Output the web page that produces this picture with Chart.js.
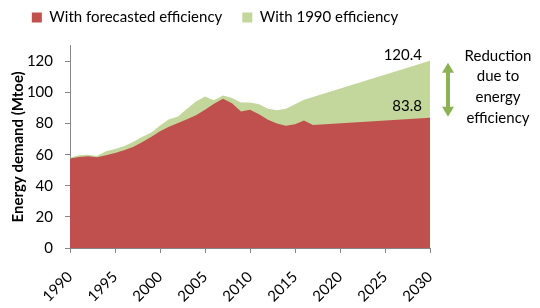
<!DOCTYPE html>
<html>
<head>
<meta charset="utf-8">
<script src="https://cdn.jsdelivr.net/npm/chart.js@4.4.1/dist/chart.umd.min.js"></script>
<style>
  html, body { margin: 0; padding: 0; background: #fff; }
  #wrap { width: 540px; height: 308px; }
</style>
</head>
<body>
<div id="wrap"><canvas id="myChart"></canvas></div>
<script>
// data (Mtoe)
const forecastYears = [1990, 1991, 1992, 1993, 1994, 1995, 1996, 1997, 1998, 1999, 2000, 2001, 2002, 2003, 2004, 2005, 2006, 2007, 2008, 2009, 2010, 2011, 2012, 2013, 2014, 2015, 2016, 2017, 2030];
const forecastValues = [57.5, 58.5, 59, 58.3, 59.6, 61, 62.8, 65, 68, 71.3, 75, 78, 80.3, 82.7, 85.3, 88.9, 92.7, 96, 93, 87.8, 88.9, 86, 82.5, 80, 78.6, 79.5, 82, 79, 83.8];

const baselineYears = [1990, 1991, 1992, 1993, 1994, 1995, 1996, 1997, 1998, 1999, 2000, 2001, 2002, 2003, 2004, 2005, 2006, 2007, 2008, 2009, 2010, 2011, 2012, 2013, 2014, 2015, 2016, 2030];
const baselineValues = [58, 59.6, 60, 59.2, 62.2, 63.7, 65.4, 68.2, 71.4, 74.1, 78.8, 82.7, 84.6, 89.5, 94.2, 97.4, 95, 98, 96.5, 93.5, 93.5, 92.5, 89.5, 88.5, 89.5, 92.5, 95.3, 120.4];

const yTickValues = [0, 20, 40, 60, 80, 100, 120];
const seriesLabels = ['With forecasted efficiency', 'With 1990 efficiency'];
const endLabels = ['83.8', '120.4'];
const noteLines = ['Reduction', 'due to', 'energy', 'efficiency'];

const FONT = 'Lato, "Open Sans", sans-serif';
const RED = '#C0504D';
const GREEN = '#C3D69B';
const ARROW = '#8DB255';

function toPoints(xs, ys) {
  return xs.map((x, i) => ({ x: x, y: ys[i] }));
}

// end values and the reduction arrow, placed with the chart's own scales
const notesPlugin = {
  id: 'notes',
  afterDraw(chart) {
    const ctx = chart.ctx;
    const xs = chart.scales.x;
    const ys = chart.scales.y;
    const lastF = forecastValues[forecastValues.length - 1];
    const lastB = baselineValues[baselineValues.length - 1];
    const xEnd = xs.getPixelForValue(2030);

    ctx.save();
    ctx.font = '15px ' + FONT;
    ctx.fillStyle = '#000';
    ctx.textAlign = 'right';
    ctx.textBaseline = 'middle';
    ctx.fillText(endLabels[1], xEnd - 8, ys.getPixelForValue(lastB) - 6);
    ctx.fillText(endLabels[0], xEnd - 8, ys.getPixelForValue(lastF) - 12);

    // double-headed arrow
    const ax = xEnd + 18;
    const top = ys.getPixelForValue(lastB) + 2;
    const bot = ys.getPixelForValue(lastF) - 1;
    ctx.strokeStyle = ARROW;
    ctx.fillStyle = ARROW;
    ctx.lineWidth = 4;
    ctx.beginPath();
    ctx.moveTo(ax, top + 8);
    ctx.lineTo(ax, bot - 8);
    ctx.stroke();
    ctx.beginPath();
    ctx.moveTo(ax, top);
    ctx.lineTo(ax - 6, top + 10);
    ctx.lineTo(ax + 6, top + 10);
    ctx.closePath();
    ctx.fill();
    ctx.beginPath();
    ctx.moveTo(ax, bot);
    ctx.lineTo(ax - 6, bot - 10);
    ctx.lineTo(ax + 6, bot - 10);
    ctx.closePath();
    ctx.fill();

    // side note
    ctx.fillStyle = '#000';
    ctx.textAlign = 'center';
    noteLines.forEach((t, i) => {
      ctx.fillText(t, xEnd + 68, top - 7 + i * 20.7);
    });
    ctx.restore();
  }
};

window.onload = function () {
  const ctx = document.getElementById('myChart');
  window.myChart = new Chart(ctx, {
    type: 'line',
    data: {
      datasets: [
        {
          label: seriesLabels[0],
          data: toPoints(forecastYears, forecastValues),
          backgroundColor: RED, borderColor: RED, borderWidth: 0,
          fill: 'origin', pointRadius: 0, tension: 0
        },
        {
          label: seriesLabels[1],
          data: toPoints(baselineYears, baselineValues),
          backgroundColor: GREEN, borderColor: GREEN, borderWidth: 0,
          fill: 'origin', pointRadius: 0, tension: 0
        }
      ]
    },
    options: {
      responsive: true,
      maintainAspectRatio: false,
      animation: false,
      layout: { padding: { top: -10, right: 110, bottom: 0, left: 0 } },
      plugins: {
        tooltip: { enabled: false },
        legend: {
          position: 'top',
          labels: {
            boxWidth: 10, boxHeight: 10, padding: 20,
            color: '#000',
            font: { family: FONT, size: 15 }
          }
        },
        // empty title used only as a spacer between legend and plot
        title: {
          display: true, text: '', weight: 500,
          padding: 0, font: { size: 9 }
        }
      },
      scales: {
        x: {
          type: 'linear',
          min: 1990, max: 2030,
          border: { color: '#868686' },
          grid: { drawOnChartArea: false, tickLength: 5, color: '#868686' },
          // the rotated 1990 label may hang left of the plot like in the original
          afterFit: axis => { axis.paddingLeft = 4; axis.height = 60; },
          ticks: {
            stepSize: 5, maxRotation: 45, minRotation: 45, padding: 15,
            color: '#000',
            font: { family: FONT, size: 15 },
            callback: v => String(v)
          }
        },
        y: {
          min: 0, max: 130,
          border: { color: '#868686' },
          grid: { drawOnChartArea: false, tickLength: 5, color: '#868686' },
          afterBuildTicks: axis => { axis.ticks = yTickValues.map(v => ({ value: v })); },
          afterFit: axis => { axis.width = 70; },
          ticks: {
            padding: 12,
            color: '#000',
            font: { family: FONT, size: 15 }
          },
          title: {
            display: true,
            text: 'Energy demand (Mtoe)',
            color: '#000',
            padding: { top: 9, bottom: 2 },
            font: { family: FONT, size: 15, weight: 'bold' }
          }
        }
      }
    },
    plugins: [notesPlugin]
  });
};
</script>
</body>
</html>
